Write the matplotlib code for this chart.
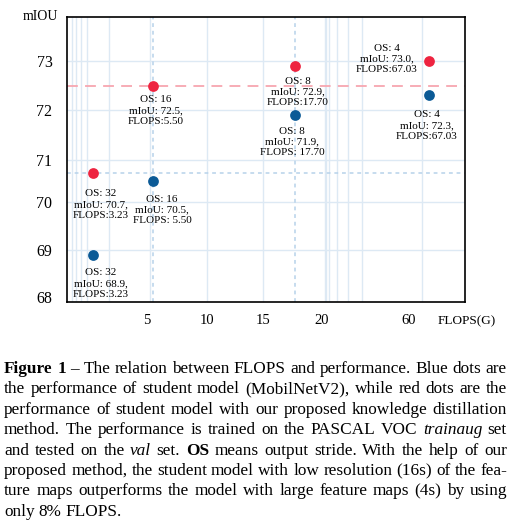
import numpy as np
import matplotlib
matplotlib.use("Agg")
import matplotlib.pyplot as plt

plt.rcParams['font.family'] = ['Liberation Serif', 'DejaVu Serif']

# data
output_stride = [32, 16, 8, 4]
flops = [3.23, 5.50, 17.70, 67.03]
miou_student = [68.9, 70.5, 71.9, 72.3]     # blue, MobileNetV2 alone
miou_distilled = [70.7, 72.5, 72.9, 73.0]   # red, with distillation
student_labels = ["OS: 32\nmIoU: 68.9,\nFLOPS:3.23",
                  "OS: 16\nmIoU: 70.5,\nFLOPS: 5.50",
                  "OS: 8\nmIoU: 71.9,\nFLOPS: 17.70",
                  "OS: 4\nmIoU: 72.3,\nFLOPS:67.03"]
distilled_labels = ["OS: 32\nmIoU: 70.7,\nFLOPS:3.23",
                    "OS: 16\nmIoU: 72.5,\nFLOPS:5.50",
                    "OS: 8\nmIoU: 72.9,\nFLOPS:17.70",
                    "OS: 4\nmIoU: 73.0,\nFLOPS:67.03"]
x_ticks = [5, 10, 15, 20, 60]
y_ticks = [68, 69, 70, 71, 72, 73]
x_grid = [2.55, 2.7, 2.85, 3.05, 3.75, 5.25, 10, 15, 21.4, 22, 23.4, 27, 32, 38.5, 64.5]
y_grid = [69, 70, 71, 72, 73]
ref_miou = [72.5, 70.7]     # dashed horizontal guides (red, blue)
ref_flops = [5.50, 17.70]   # dashed vertical guides

caption = [
    "B:Figure B:1 – The relation between FLOPS and performance. Blue dots are",
    "the performance of student model (MobilNetV2), while red dots are the",
    "performance of student model with our proposed knowledge distillation",
    "method. The performance is trained on the PASCAL VOC I:trainaug set",
    "and tested on the I:val set. B:OS means output stride. With the help of our",
    "proposed method, the student model with low resolution (16s) of the fea-",
    "ture maps outperforms the model with large feature maps (4s) by using",
    "only 8% FLOPS.",
]

RED = '#EE2440'
BLUE = '#0B5A96'
GRID = '#DDE9F4'


def piecewise_scale(vals, pos):
    """Piecewise linear axis (the original axes are hand-stretched)."""
    vals = np.asarray(vals, float)
    pos = np.asarray(pos, float)

    def interp(v, a, b):
        v = np.asarray(v, float)
        out = np.interp(v, a, b)
        out = np.where(v < a[0], b[0] + (v - a[0]) * (b[1] - b[0]) / (a[1] - a[0]), out)
        out = np.where(v > a[-1], b[-1] + (v - a[-1]) * (b[-1] - b[-2]) / (a[-1] - a[-2]), out)
        return out

    return (lambda v: interp(v, vals, pos)), (lambda p: interp(p, pos, vals))


fig = plt.figure(figsize=(5.17, 5.26), dpi=100)
ax = fig.add_axes([67 / 517, 1 - 302 / 526, 398 / 517, 285 / 526])

# stretched axes: knots at tick positions (pixel units)
ax.set_xscale('function', functions=piecewise_scale(
    [2.4, 5, 10, 15, 20, 60, 80], [67, 147, 207, 263, 322, 409, 465]))
ax.set_yscale('function', functions=piecewise_scale(
    [67.89, 68, 69, 70, 71, 72, 73, 73.93],
    [526 - p for p in [302, 297, 250, 202, 160, 110, 61, 17]]))
ax.set_xlim(2.4, 80)
ax.set_ylim(67.89, 73.93)

for gx in x_grid:
    ax.axvline(gx, color=GRID, lw=1.0, zorder=0)
for gy in y_grid:
    ax.axhline(gy, color=GRID, lw=1.0, zorder=0)

ax.axhline(ref_miou[0], color='#F7A6B0', lw=1.3, ls=(0, (6, 4)), zorder=1)
ax.axhline(ref_miou[1], color='#B7D2EA', lw=1.1, ls=(0, (2.5, 2.5)), zorder=1)
for fx in ref_flops:
    ax.axvline(fx, color='#B7D2EA', lw=1.1, ls=(0, (2.5, 2.5)), zorder=1)

ax.scatter(flops, miou_student, s=60, color=BLUE, zorder=3, linewidths=0)
ax.scatter(flops, miou_distilled, s=60, color=RED, zorder=3, linewidths=0)

# label offsets in pixels from each dot
student_off = [(8, -29), (9, -29), (-3, -27), (-2, -30)]
distilled_off = [(8, -32), (3, -25), (3, -26), (-42, 2)]
for xs, ys, labels, offs in [(flops, miou_student, student_labels, student_off),
                             (flops, miou_distilled, distilled_labels, distilled_off)]:
    for x, y, lab, (dx, dy) in zip(xs, ys, labels, offs):
        ax.annotate(lab, (x, y), xytext=(dx * 0.72, dy * 0.72), textcoords='offset points',
                    ha='center', va='center', multialignment='center',
                    fontsize=8, linespacing=1.25, zorder=4)

ax.set_xticks(x_ticks)
ax.set_xticklabels([str(t) for t in x_ticks])
ax.set_yticks(y_ticks)
ax.set_yticklabels([str(t) for t in y_ticks])
ax.minorticks_off()
ax.tick_params(axis='x', length=0, pad=9, labelsize=10.5)
ax.tick_params(axis='y', length=0, pad=10.5, labelsize=11.5)
for sp in ax.spines.values():
    sp.set_linewidth(1.2)
    sp.set_color('black')

fig.text(40 / 517, 1 - 16 / 526, "mIOU", ha='center', va='center', fontsize=10)
fig.text(438 / 517, 1 - 321 / 526, "FLOPS(G)", ha='left', va='center', fontsize=9.5)

# justified caption below the chart
renderer = fig.canvas.get_renderer()
left_px, right_px = 4, 507
for i, line in enumerate(caption):
    words = []
    for w in line.split(" "):
        weight, style = 'normal', 'normal'
        if w.startswith("B:"):
            w, weight = w[2:], 'bold'
        elif w.startswith("I:"):
            w, style = w[2:], 'italic'
        t = fig.text(0, 0, w, fontsize=12.4, fontweight=weight, fontstyle=style,
                     ha='left', va='baseline')
        words.append((t, t.get_window_extent(renderer).width))
    total = sum(wd for _, wd in words)
    if i < len(caption) - 1:
        gap = (right_px - left_px - total) / (len(words) - 1)
    else:
        gap = 4.2
    x = left_px
    base = 373 + 20.4 * i
    for t, wd in words:
        t.set_position((x / 517, 1 - base / 526))
        x += wd + gap

fig.savefig("out.png", dpi=100)
